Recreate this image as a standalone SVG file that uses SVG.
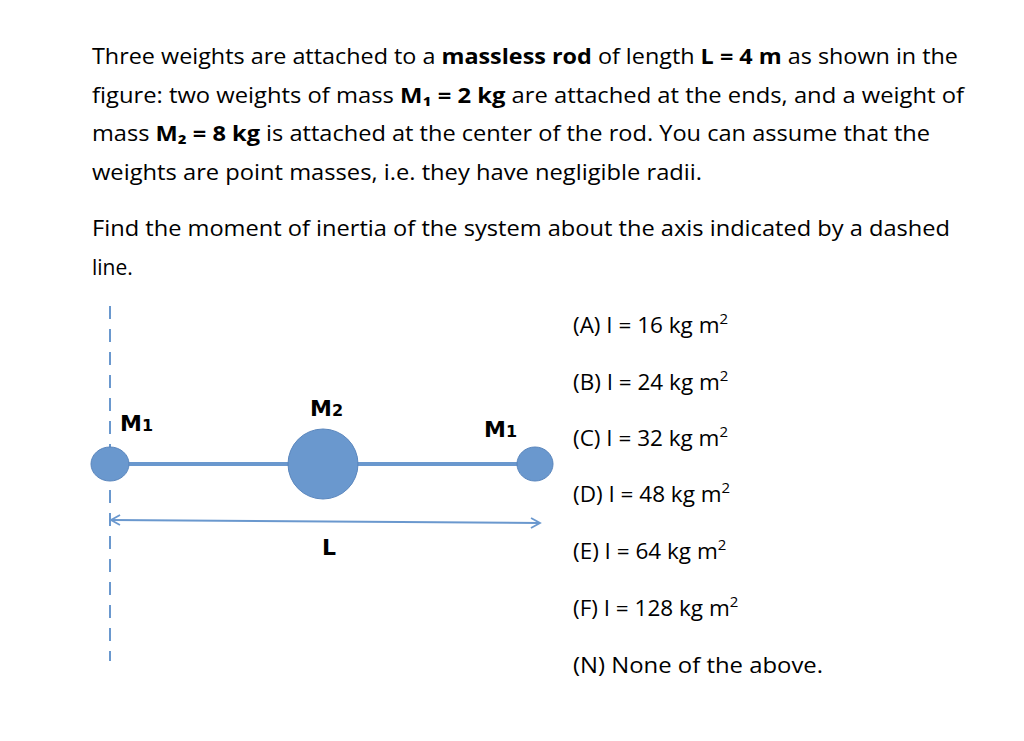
<svg xmlns="http://www.w3.org/2000/svg" width="1024" height="741" viewBox="0 0 1024 741">
<style>
.t{font-family:"Open Sans","Liberation Sans",Arial,sans-serif;font-size:21px;fill:#000}
.o{font-family:"Open Sans","Liberation Sans",Arial,sans-serif;font-size:22.5px;fill:#000}
.l{font-family:"DejaVu Sans",Verdana,sans-serif;font-size:22px;font-weight:bold;fill:#000}
.m{fill:#6a98ce;stroke:#5a86bd;stroke-width:1}
</style>
<defs><marker id="a" markerWidth="12" markerHeight="12" refX="10" refY="6" orient="auto-start-reverse" markerUnits="userSpaceOnUse"><path d="M1,1 L10,6 L1,11" fill="none" stroke="#6a98ce" stroke-width="1.8"/></marker></defs>
<rect width="1024" height="741" fill="#fff"/>
<text class="t" x="92" y="64" textLength="866" lengthAdjust="spacingAndGlyphs">Three weights are attached to a <tspan font-weight="bold">massless rod</tspan> of length <tspan font-weight="bold">L = 4 m</tspan> as shown in the</text>
<text class="t" x="92" y="103" textLength="872" lengthAdjust="spacingAndGlyphs">figure: two weights of mass <tspan font-weight="bold">M₁ = 2 kg</tspan> are attached at the ends, and a weight of</text>
<text class="t" x="92" y="141" textLength="838" lengthAdjust="spacingAndGlyphs">mass <tspan font-weight="bold">M₂ = 8 kg</tspan> is attached at the center of the rod. You can assume that the</text>
<text class="t" x="92" y="180" textLength="610" lengthAdjust="spacingAndGlyphs">weights are point masses, i.e. they have negligible radii.</text>
<text class="t" x="92" y="236" textLength="858" lengthAdjust="spacingAndGlyphs">Find the moment of inertia of the system about the axis indicated by a dashed</text>
<text class="t" x="92" y="275">line.</text>
<g id="axis"><line x1="110" y1="306" x2="110" y2="661" stroke="#6a98ce" stroke-width="2" stroke-dasharray="13,10"/></g>
<g id="connectors">
<line x1="110" y1="464" x2="535" y2="464" stroke="#6a98ce" stroke-width="4"/>
<line x1="111" y1="520" x2="540" y2="523" stroke="#6a98ce" stroke-width="2" marker-start="url(#a)" marker-end="url(#a)"/>
</g>
<g id="m1left"><ellipse class="m" cx="110" cy="464" rx="19" ry="17"/><text class="l" x="120" y="431">M<tspan font-size="16">1</tspan></text></g>
<g id="m2"><circle class="m" cx="323" cy="464" r="35"/><text class="l" x="310" y="416">M<tspan font-size="16">2</tspan></text></g>
<g id="m1right"><ellipse class="m" cx="535" cy="464" rx="18" ry="17"/><text class="l" x="484" y="437">M<tspan font-size="16">1</tspan></text></g>
<text class="l" x="322" y="555">L</text>
<g id="options">
<text class="o" x="573" y="333">(A) I = 16 kg m<tspan font-size="15" dy="-9">2</tspan></text>
<text class="o" x="573" y="390">(B) I = 24 kg m<tspan font-size="15" dy="-9">2</tspan></text>
<text class="o" x="573" y="446">(C) I = 32 kg m<tspan font-size="15" dy="-9">2</tspan></text>
<text class="o" x="573" y="502">(D) I = 48 kg m<tspan font-size="15" dy="-9">2</tspan></text>
<text class="o" x="573" y="559">(E) I = 64 kg m<tspan font-size="15" dy="-9">2</tspan></text>
<text class="o" x="573" y="616">(F) I = 128 kg m<tspan font-size="15" dy="-9">2</tspan></text>
<text class="o" x="573" y="673" textLength="250" lengthAdjust="spacingAndGlyphs">(N) None of the above.</text>
</g>
</svg>
